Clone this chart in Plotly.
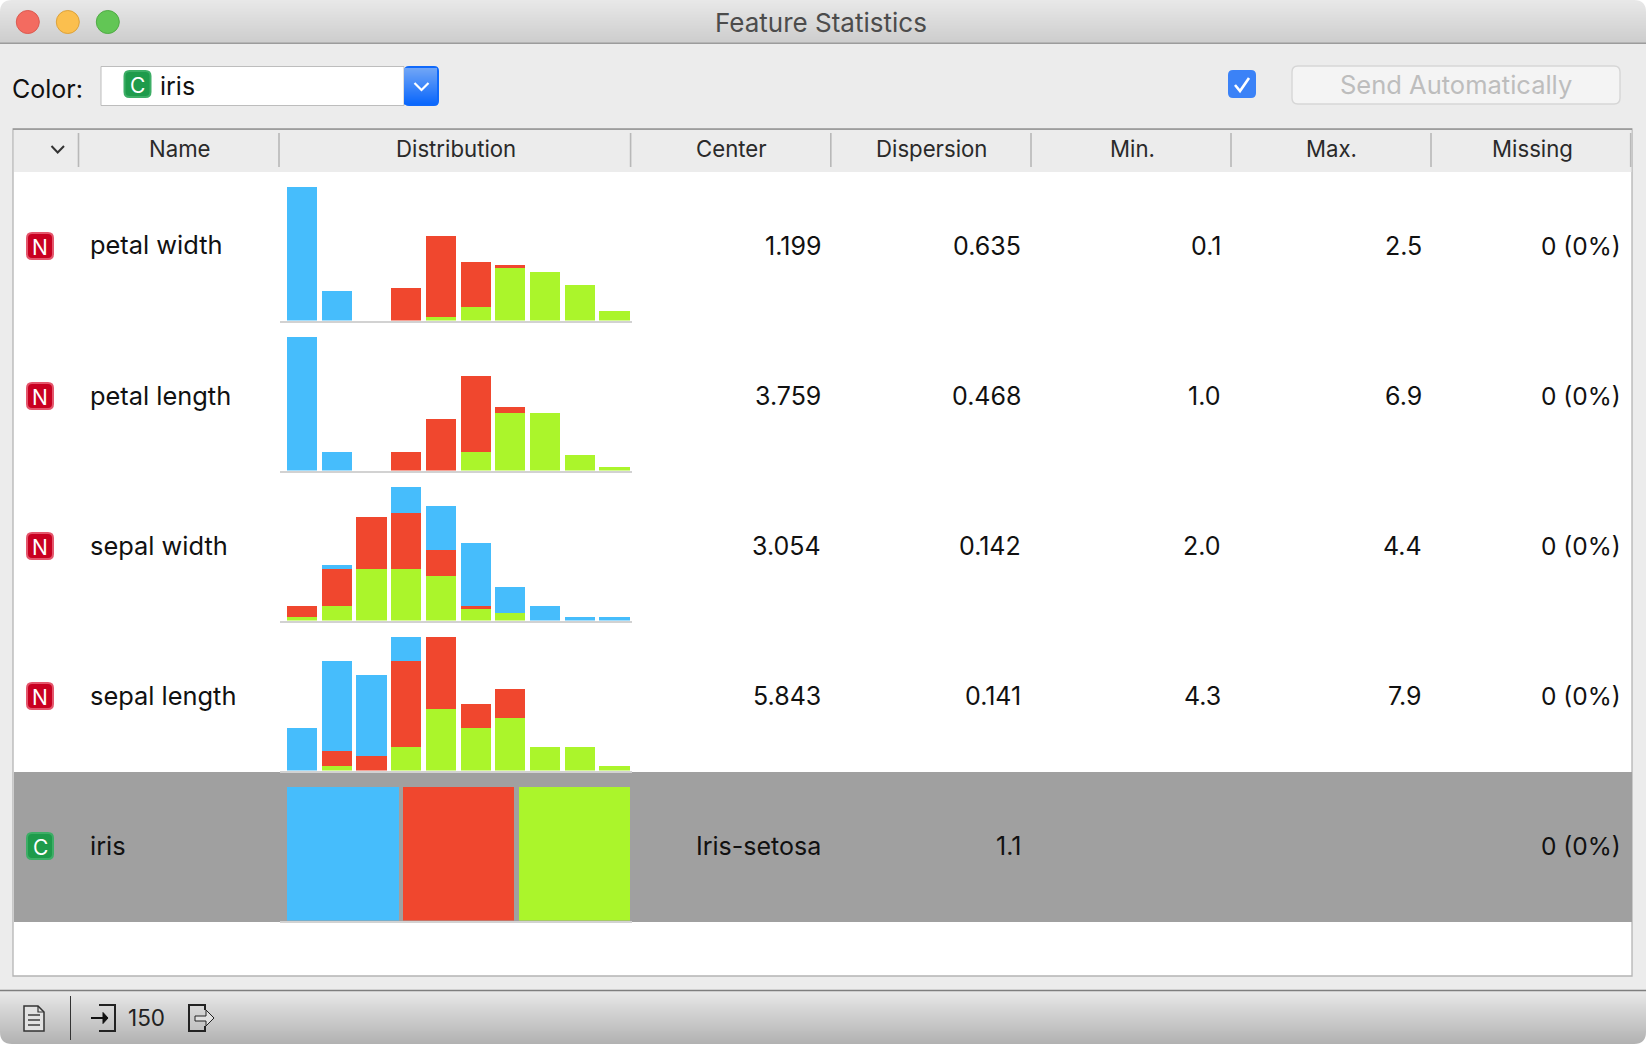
"""Feature statistics widget window, drawn as one Plotly figure."""

import plotly.graph_objects as go

FIG_W = 1646
FIG_H = 1044
FONT = "Inter"

SETOSA = "#46BDFC"
VERSICOLOR = "#F0472E"
VIRGINICA = "#ABF52B"

FEATURES = ["petal width", "petal length", "sepal width", "sepal length"]
CENTERS = ["1.199", "3.759", "3.054", "5.843", "Iris-setosa"]
DISPERSIONS = ["0.635", "0.468", "0.142", "0.141", "1.1"]
MINS = ["0.1", "1.0", "2.0", "4.3", ""]
MAXS = ["2.5", "6.9", "4.4", "7.9", ""]
MISSING = ["0 (0%)", "0 (0%)", "0 (0%)", "0 (0%)", "0 (0%)"]
COLUMNS = ["Name", "Distribution", "Center", "Dispersion", "Min.", "Max.", "Missing"]
INSTANCES = "150"

# stacked counts per histogram bin, bottom to top: virginica, versicolor, setosa
VIRGINICA_COUNTS = [
    [0, 0, 0, 0, 1, 4, 16, 15, 11, 3],
    [0, 0, 0, 0, 0, 6, 19, 19, 5, 1],
    [1, 4, 14, 14, 12, 3, 2, 0, 0, 0],
    [0, 1, 0, 5, 13, 9, 11, 5, 5, 1],
]
VERSICOLOR_COUNTS = [
    [0, 0, 0, 10, 25, 14, 1, 0, 0, 0],
    [0, 0, 0, 6, 17, 25, 2, 0, 0, 0],
    [3, 10, 14, 15, 7, 1, 0, 0, 0, 0],
    [0, 3, 3, 18, 15, 5, 6, 0, 0, 0],
]
SETOSA_COUNTS = [
    [41, 9, 0, 0, 0, 0, 0, 0, 0, 0],
    [44, 6, 0, 0, 0, 0, 0, 0, 0, 0],
    [0, 1, 0, 7, 12, 17, 7, 4, 1, 1],
    [9, 19, 17, 5, 0, 0, 0, 0, 0, 0],
]
CLASSES = ["Iris-setosa", "Iris-versicolor", "Iris-virginica"]
CLASS_COUNTS = [50, 50, 50]
CLASS_COLORS = [SETOSA, VERSICOLOR, VIRGINICA]

ROW_HEIGHT = 150
BASELINES = [320.5, 470.5, 620.5, 770.5, 920.5]
PLOT_LEFT = 280
PLOT_RIGHT = 632
PLOT_HEIGHT = 133.5
BAR_LEFT = 287


def px(x):
    return x / FIG_W


def py(y):
    return 1 - y / FIG_H


def rounded_path(x0, y0, x1, y1, r):
    pts = [
        f"M {px(x0 + r)} {py(y0)}",
        f"L {px(x1 - r)} {py(y0)}",
        f"Q {px(x1)} {py(y0)} {px(x1)} {py(y0 + r)}",
        f"L {px(x1)} {py(y1 - r)}",
        f"Q {px(x1)} {py(y1)} {px(x1 - r)} {py(y1)}",
        f"L {px(x0 + r)} {py(y1)}",
        f"Q {px(x0)} {py(y1)} {px(x0)} {py(y1 - r)}",
        f"L {px(x0)} {py(y0 + r)}",
        f"Q {px(x0)} {py(y0)} {px(x0 + r)} {py(y0)} Z",
    ]
    return " ".join(pts)


def polyline(points, close=False):
    path = " ".join(
        ("M" if i == 0 else "L") + f" {px(x)} {py(y)}" for i, (x, y) in enumerate(points)
    )
    return path + (" Z" if close else "")


def add_rect(fig, x0, y0, x1, y1, fill, line=None, width=1):
    fig.add_shape(
        type="rect",
        xref="paper",
        yref="paper",
        x0=px(x0),
        y0=py(y1),
        x1=px(x1),
        y1=py(y0),
        fillcolor=fill,
        line=dict(color=line or fill, width=width if line else 0),
        layer="below",
    )


def add_path(fig, path, fill="rgba(0,0,0,0)", line=None, width=1.5):
    fig.add_shape(
        type="path",
        xref="paper",
        yref="paper",
        path=path,
        fillcolor=fill,
        line=dict(color=line or "rgba(0,0,0,0)", width=width if line else 0),
        layer="below",
    )


def add_gradient(fig, x0, y0, x1, y1, top, bottom):
    steps = int(y1 - y0)
    for i in range(steps):
        t = i / max(steps - 1, 1)
        rgb = [round(a + (b - a) * t) for a, b in zip(top, bottom)]
        add_rect(fig, x0, y0 + i, x1, y0 + i + 1.5, f"rgb({rgb[0]},{rgb[1]},{rgb[2]})")


def add_text(fig, x, y, text, size=25, color="#111111", anchor="left"):
    fig.add_annotation(
        xref="paper",
        yref="paper",
        x=px(x),
        y=py(y),
        text=text,
        showarrow=False,
        xanchor=anchor,
        yanchor="middle",
        borderpad=0,
        font=dict(family=FONT, size=size, color=color),
    )


def add_badge(fig, cx, cy, letter, fill, edge):
    add_path(fig, rounded_path(cx - 13, cy - 13, cx + 13, cy + 13, 5), fill=fill, line=edge, width=2)
    add_text(fig, cx, cy + 1, letter, size=21, color="#FFFFFF", anchor="center")


def add_axes(fig, index, baseline, x_range, y_max):
    suffix = "" if index == 1 else str(index)
    fig.update_layout(
        {
            f"xaxis{suffix}": dict(
                domain=[px(PLOT_LEFT), px(PLOT_RIGHT)],
                range=x_range,
                anchor=f"y{suffix}",
                showgrid=False,
                zeroline=False,
                showticklabels=False,
                ticks="",
                showline=True,
                linecolor="#D2D2D2",
                linewidth=2,
            ),
            f"yaxis{suffix}": dict(
                domain=[py(baseline), py(baseline - PLOT_HEIGHT)],
                anchor=f"x{suffix}",
                range=[0, y_max],
                visible=False,
            ),
        }
    )


fig = go.Figure()

# window chrome
add_rect(fig, 0, 0, FIG_W, FIG_H, "#ECECEC")
add_gradient(fig, 0, 0, FIG_W, 43, (232, 232, 232), (205, 205, 205))
add_rect(fig, 0, 42.5, FIG_W, 44, "#9C9C9C")
add_gradient(fig, 0, 991, FIG_W, FIG_H, (232, 232, 232), (178, 178, 178))
add_rect(fig, 0, 989.8, FIG_W, 991.2, "#7E7E7E")
for cx, fill, edge in [
    (27.8, "#F36B60", "#DC5A50"),
    (67.8, "#FBBF4E", "#DDA23A"),
    (107.8, "#62C655", "#50AB45"),
]:
    fig.add_shape(
        type="circle",
        xref="paper",
        yref="paper",
        x0=px(cx - 11.5),
        x1=px(cx + 11.5),
        y0=py(33.5),
        y1=py(10.5),
        fillcolor=fill,
        line=dict(color=edge, width=1),
        layer="below",
    )
for x, y, dx, dy in [(0, 0, 1, 1), (FIG_W, 0, -1, 1), (0, FIG_H, 1, -1), (FIG_W, FIG_H, -1, -1)]:
    corner = (
        f"M {px(x)} {py(y)} L {px(x + 12 * dx)} {py(y)} "
        f"Q {px(x)} {py(y)} {px(x)} {py(y + 12 * dy)} Z"
    )
    add_path(fig, corner, fill="#FFFFFF")
add_text(fig, 821, 23, "Feature Statistics", size=26, color="#4C4C4C", anchor="center")

# top controls
add_text(fig, 11, 89, "Color:", size=25, color="#111111")
add_rect(fig, 101, 66.5, 404, 105.5, "#FFFFFF", line="#BDBDBD", width=1)
add_path(fig, rounded_path(404, 66, 439, 106, 5), fill="#0F69FB")
add_gradient(fig, 404, 68, 437, 104, (112, 165, 246), (12, 104, 252))
add_path(fig, polyline([(414.5, 83), (421.5, 90), (428.5, 83)]), line="#FFFFFF", width=2.2)
add_badge(fig, 137.5, 84, "C", "#1E9B4B", "#3DAE66")
add_text(fig, 159, 86, "iris", size=25, color="#111111")
add_path(fig, rounded_path(1228, 70, 1256, 98, 5), fill="#3B82F7")
add_path(fig, polyline([(1235, 85), (1240, 91), (1249, 78)]), line="#FFFFFF", width=2.6)
add_path(fig, rounded_path(1292, 66, 1620, 104, 6), fill="#F4F4F4", line="#D6D6D6", width=1.4)
add_text(fig, 1456, 84, "Send Automatically", size=25.5, color="#BDBDBD", anchor="center")

# table
add_rect(fig, 13, 129, 1632, 976, "#FFFFFF", line="#B4B4B4", width=1.3)
add_rect(fig, 14, 130, 1631.4, 172, "#ECECEC")
add_rect(fig, 13, 128.5, 1632, 129.8, "#8F8F8F")
add_rect(fig, 14, 772, 1632, 922, "#A0A0A0")
HEADER_CENTERS = [179.5, 455.7, 731.8, 931, 1132, 1331.5, 1532]
for x in [78.5, 279, 630.6, 830.8, 1031, 1231, 1431, 1630.7]:
    add_rect(fig, x - 0.8, 133, x + 0.8, 167, "#B8B8B8")
for x, label in zip(HEADER_CENTERS, COLUMNS):
    add_text(fig, x, 149, label, size=22.2, color="#2A2A2A", anchor="center")
add_path(fig, polyline([(51.5, 146), (57.7, 152.5), (64, 146)]), line="#333333", width=2)

# rows
row_names = FEATURES + ["iris"]
for i, name in enumerate(row_names):
    y = 246 + i * ROW_HEIGHT
    if name == "iris":
        add_badge(fig, 40, y, "C", "#1E9B4B", "#3DAE66")
    else:
        add_badge(fig, 40, y, "N", "#C90021", "#E4566C")
    add_text(fig, 89, y - 1, name, size=25.4)
    add_text(fig, 821.5, y, CENTERS[i], size=25, anchor="right")
    add_text(fig, 1022, y, DISPERSIONS[i], size=25, anchor="right")
    add_text(fig, 1221.5, y, MINS[i], size=25, anchor="right")
    add_text(fig, 1422.5, y, MAXS[i], size=25, anchor="right")
    add_text(fig, 1622, y, MISSING[i], size=24.5, anchor="right")

# histograms
BIN_PITCH = 34.7
BIN_WIDTH = 30.2
for i in range(len(FEATURES)):
    idx = i + 1
    suffix = "" if idx == 1 else str(idx)
    bins = list(range(len(SETOSA_COUNTS[i])))
    for label, counts, color in [
        (CLASSES[2], VIRGINICA_COUNTS[i], VIRGINICA),
        (CLASSES[1], VERSICOLOR_COUNTS[i], VERSICOLOR),
        (CLASSES[0], SETOSA_COUNTS[i], SETOSA),
    ]:
        fig.add_trace(
            go.Bar(
                x=bins,
                y=counts,
                name=label,
                marker=dict(color=color, line=dict(width=0)),
                width=BIN_WIDTH / BIN_PITCH,
                xaxis=f"x{suffix}",
                yaxis=f"y{suffix}",
                showlegend=False,
            )
        )
    centre0 = BAR_LEFT + BIN_WIDTH / 2
    totals = [a + b + c for a, b, c in zip(VIRGINICA_COUNTS[i], VERSICOLOR_COUNTS[i], SETOSA_COUNTS[i])]
    add_axes(
        fig,
        idx,
        BASELINES[i],
        [(PLOT_LEFT - centre0) / BIN_PITCH, (PLOT_RIGHT - centre0) / BIN_PITCH],
        max(totals),
    )

# class distribution row
CLASS_PITCH = 115.9
CLASS_WIDTH = 111.5
fig.add_trace(
    go.Bar(
        x=[0, 1, 2],
        y=CLASS_COUNTS,
        marker=dict(color=CLASS_COLORS, line=dict(width=0)),
        customdata=CLASSES,
        width=CLASS_WIDTH / CLASS_PITCH,
        xaxis="x5",
        yaxis="y5",
        showlegend=False,
    )
)
centre0 = BAR_LEFT + CLASS_WIDTH / 2
add_axes(
    fig,
    5,
    BASELINES[4],
    [(PLOT_LEFT - centre0) / CLASS_PITCH, (PLOT_RIGHT - centre0) / CLASS_PITCH],
    max(CLASS_COUNTS),
)

# status bar
add_path(
    fig,
    polyline([(24, 1006), (38, 1006), (44, 1012), (44, 1031), (24, 1031)], close=True),
    fill="#E2E2E2",
    line="#333333",
    width=1.5,
)
add_path(fig, polyline([(38, 1006), (38, 1012), (44, 1012)]), line="#333333", width=1.2)
for ly in [1015, 1020, 1025]:
    add_path(fig, polyline([(28, ly), (40, ly)]), line="#333333", width=1.4)
add_rect(fig, 70, 996, 71, 1040, "#333333")
add_path(fig, polyline([(99, 1005), (115, 1005), (115, 1031), (99, 1031)]), line="#222222", width=2)
add_path(fig, polyline([(91, 1018), (107, 1018)]), line="#111111", width=2)
add_path(fig, polyline([(103, 1012.5), (108, 1018), (103, 1023.5)], close=True), fill="#111111", line="#111111", width=1)
add_text(fig, 127, 1017, INSTANCES, size=22.5, color="#222222")
add_path(fig, polyline([(205, 1010), (205, 1005), (189, 1005), (189, 1031), (205, 1031), (205, 1026)]), line="#222222", width=2)
add_path(
    fig,
    polyline(
        [(195, 1016), (206, 1016), (206, 1010), (214, 1018), (206, 1026), (206, 1021), (195, 1021)],
        close=True,
    ),
    fill="#E0E0E0",
    line="#222222",
    width=1,
)

fig.update_layout(
    width=FIG_W,
    height=FIG_H,
    margin=dict(l=0, r=0, t=0, b=0),
    paper_bgcolor="#FFFFFF",
    plot_bgcolor="rgba(0,0,0,0)",
    barmode="stack",
    bargap=0,
    showlegend=False,
    font=dict(family=FONT),
)

fig.write_html(
    "out.html",
    config=dict(displayModeBar=False),
    post_script="document.body.style.margin='0';document.body.style.overflow='hidden';",
)
